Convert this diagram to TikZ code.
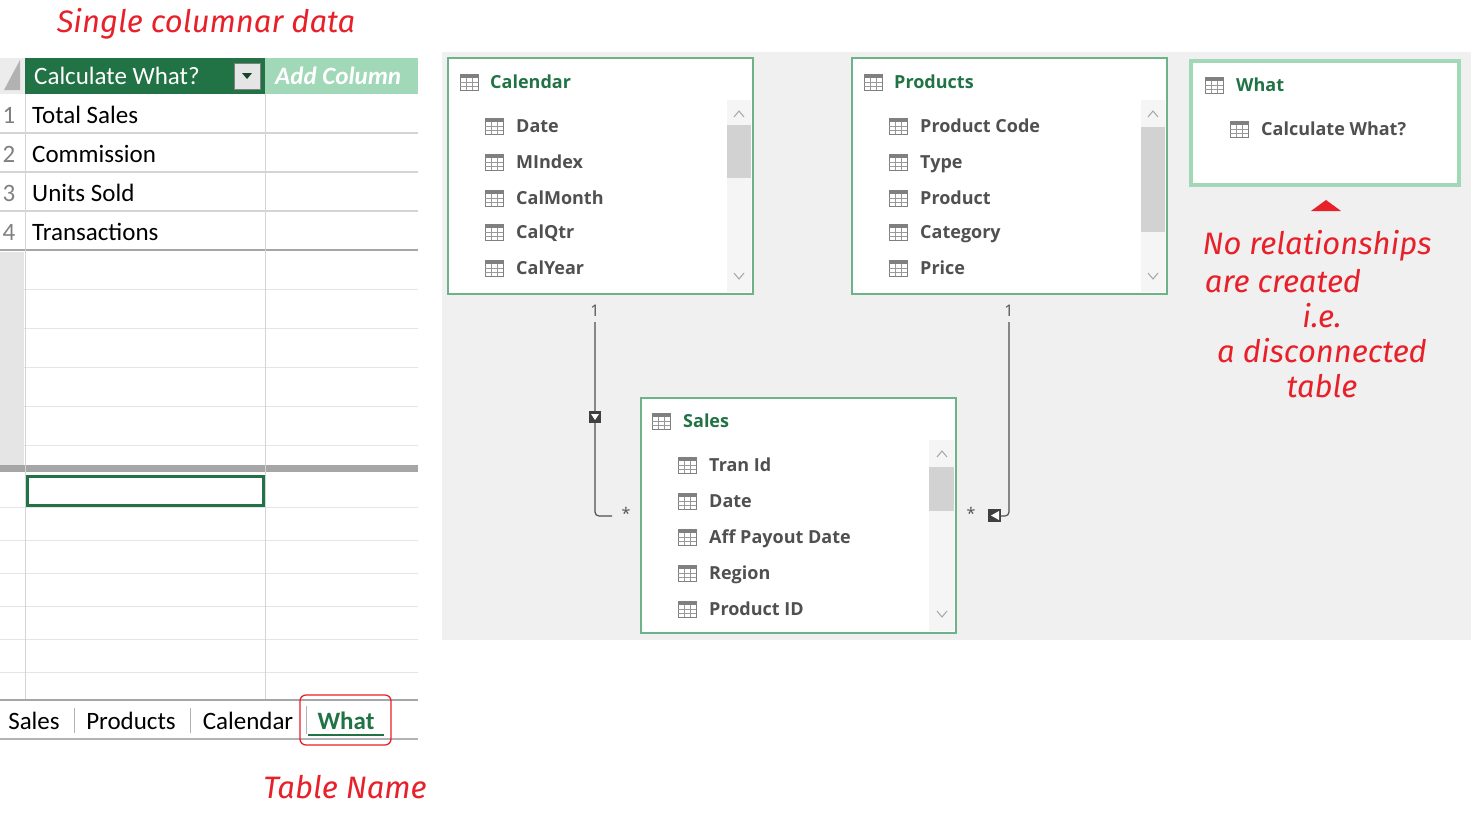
\documentclass[tikz,border=0pt]{standalone}
\usepackage{fontspec}
\setmainfont{Carlito}
\newfontfamily\ui{Open Sans}
\newfontfamily\hand{Fira Sans}
\definecolor{xg}{HTML}{217346}
\definecolor{lg}{HTML}{A0D8B8}
\definecolor{bx}{HTML}{6DB38A}
\definecolor{gl}{HTML}{D4D4D4}
\definecolor{rd}{HTML}{E8202A}
\definecolor{ft}{HTML}{505050}
\begin{document}
\begin{tikzpicture}[x=1pt,y=-1pt,
  tbox/.style={draw=bx,line width=1.5pt,fill=white},
  fld/.style={anchor=base west,yshift=-6.5pt,font=\ui\bfseries\fontsize{18}{20}\selectfont,text=ft,inner sep=0},
  ttl/.style={anchor=base west,yshift=-6.5pt,font=\ui\bfseries\fontsize{18}{20}\selectfont,text=xg,inner sep=0},
  cell/.style={anchor=base west,yshift=-8.5pt,font=\fontsize{25}{27}\selectfont,inner sep=0},
  rnum/.style={anchor=base,yshift=-8.5pt,font=\fontsize{25}{27}\selectfont,text=gray,inner sep=0},
  tab/.style={anchor=base,yshift=-8.5pt,font=\fontsize{25}{27}\selectfont,inner sep=0},
  red/.style={font=\hand\itshape\fontsize{31}{33}\selectfont,text=rd,inner sep=0},
  conn/.style={draw=ft,line width=1.2pt,rounded corners=4pt},
  lbl/.style={font=\ui\fontsize{16}{17}\selectfont,text=ft,inner sep=0}]
\newcommand\tblicon[2]{\begin{scope}[shift={(#1,#2)}]
 \draw[gray,line width=1pt,fill=white] (-9,-8) rectangle (9,8);
 \fill[gray] (-9,-8) rectangle (9,-4);
 \draw[gray!80,line width=0.6pt] (-3,-4)--(-3,8) (3,-4)--(3,8) (-9,0)--(9,0) (-9,4)--(9,4);
 \end{scope}}
\useasboundingbox (0,0) rectangle (1471,825);
\fill[white] (0,0) rectangle (1471,825);
% title
\node[red] (t1) at (206,24) {Single columnar data};
% spreadsheet
\fill[gray!15] (0,58) rectangle (25,94);
\fill[gray!60] (20,60) -- (20,90) -- (4,90) -- cycle;
\fill[xg] (25,58) rectangle (265,94);
\fill[lg] (265,58) rectangle (418,94);
\node[cell,text=white] (h1) at (34,76) {Calculate What?};
\draw[gray,fill=gray!20] (234,63) rectangle (260,89);
\fill[xg!60!black] (242,73) -- (252,73) -- (247,79) -- cycle;
\node[cell,text=white,font=\bfseries\itshape\fontsize{25}{27}\selectfont] (h2) at (275,76) {Add Column};
\foreach \y in {133,172,211} \draw[gl,line width=1.2pt] (0,\y) -- (418,\y);
\foreach \y in {289,328,367,406,445,507,540,573,606,639,672} \draw[gl!60,line width=1pt] (0,\y) -- (418,\y);
\draw[gray!70,line width=2pt] (0,250) -- (418,250);
\fill[gray!20] (0,252) rectangle (24,466);
\fill[gray!70] (0,465) rectangle (418,472);
\draw[gl,line width=1pt] (25,94) -- (25,700) (265,94) -- (265,700);
\node[rnum] at (9,115) {1};\node[cell] (c1) at (32,115) {Total Sales};
\node[rnum] at (9,154) {2};\node[cell] (c2) at (32,154) {Commission};
\node[rnum] at (9,193) {3};\node[cell] (c3) at (32,193) {Units Sold};
\node[rnum] at (9,232) {4};\node[cell] (c4) at (32,232) {Transactions};
\draw[xg,line width=3pt] (27,476) rectangle (263,505);
% tabs
\draw[gray!70,line width=1.2pt] (0,700) -- (418,700);
\draw[gray!60,line width=1.5pt] (0,739) -- (418,739);
\node[tab] (s1) at (34,721) {Sales};
\node[tab] (s2) at (131,721) {Products};
\node[tab] (s3) at (248,721) {Calendar};
\node[tab,text=xg,font=\bfseries\fontsize{25}{27}\selectfont] (s4) at (346,721) {What};
\draw[gray!60] (74,708)--(74,733) (190,708)--(190,733) (306,706)--(306,734);
\draw[xg,line width=2pt] (308,735) -- (384,735);
\draw[rd,line width=1.3pt,rounded corners=6pt] (300,695) rectangle (391,745);
\node[red] (tn) at (345,787) {Table Name};
% diagram background
\fill[gray!12] (442,52) rectangle (1471,640);
% Calendar
\draw[tbox] (448,58) rectangle (753,294);
\fill[gray!8] (727,100) rectangle (751,292);
\fill[gray!35] (727,125) rectangle (751,178);
\draw[gray!70,line width=1pt] (734,117)--(739,111)--(744,117) (734,273)--(739,279)--(744,273);
\tblicon{469}{82}\node[ttl] (cal) at (490,82) {Calendar};
\foreach \t/\y in {Date/126,MIndex/162,CalMonth/198,CalQtr/232,CalYear/268}{\tblicon{494}{\y}\node[fld] at (516,\y) {\t};}
% Products
\draw[tbox] (852,58) rectangle (1167,294);
\fill[gray!8] (1141,100) rectangle (1165,292);
\fill[gray!35] (1141,127) rectangle (1165,232);
\draw[gray!70,line width=1pt] (1148,117)--(1153,111)--(1158,117) (1148,273)--(1153,279)--(1158,273);
\tblicon{873}{82}\node[ttl] (prd) at (894,82) {Products};
\foreach \t/\y in {Product Code/126,Type/162,Product/198,Category/232,Price/268}{\tblicon{898}{\y}\node[fld] at (920,\y) {\t};}
% What
\draw[draw=lg,line width=3.5pt,fill=white] (1191,61) rectangle (1459,185);
\tblicon{1214}{85}\node[ttl] (wht) at (1236,85) {What};
\tblicon{1239}{129}\node[fld] (cw) at (1261,129) {Calculate What?};
% Sales
\draw[tbox] (641,398) rectangle (956,633);
\fill[gray!8] (929,440) rectangle (954,631);
\fill[gray!35] (929,467) rectangle (954,511);
\draw[gray!70,line width=1pt] (937,457)--(942,451)--(947,457) (937,611)--(942,617)--(947,611);
\tblicon{661}{421}\node[ttl] (sal) at (683,421) {Sales};
\foreach \t/\y in {Tran Id/465,Date/501,Aff Payout Date/537,Region/573,Product ID/609}{\tblicon{687}{\y}\node[fld] at (709,\y) {\t};}
% connectors
\coordinate (a1) at (595,322);\coordinate (a2) at (612,516);
\coordinate (b1) at (1009,322);\coordinate (b2) at (988,516);
\draw[conn] (a1) |- (a2);
\draw[conn] (b1) |- (b2);
\fill[ft!80!black] (589,411) rectangle (601,423);
\fill[white] (591,414) -- (599,414) -- (595,420) -- cycle;
\fill[ft!80!black] (988,509) rectangle (1001,522);
\fill[white] (999,511) -- (999,520) -- (991,515.5) -- cycle;
\node[lbl] at (595,311) {1};
\node[lbl] at (1009,311) {1};
\node[lbl] at (626,513) {*};
\node[lbl] at (971,513) {*};
% annotation
\fill[rd] (1311,211) -- (1341,211) -- (1326,200) -- cycle;
\node[red] (n1) at (1317,246) {No relationships};
\node[red] (n2) at (1283,281) {are created};
\node[red] (n3) at (1322,316) {i.e.};
\node[red] (n4) at (1322,351) {a disconnected};
\node[red] (n5) at (1322,386) {table};
\end{tikzpicture}
\end{document}
